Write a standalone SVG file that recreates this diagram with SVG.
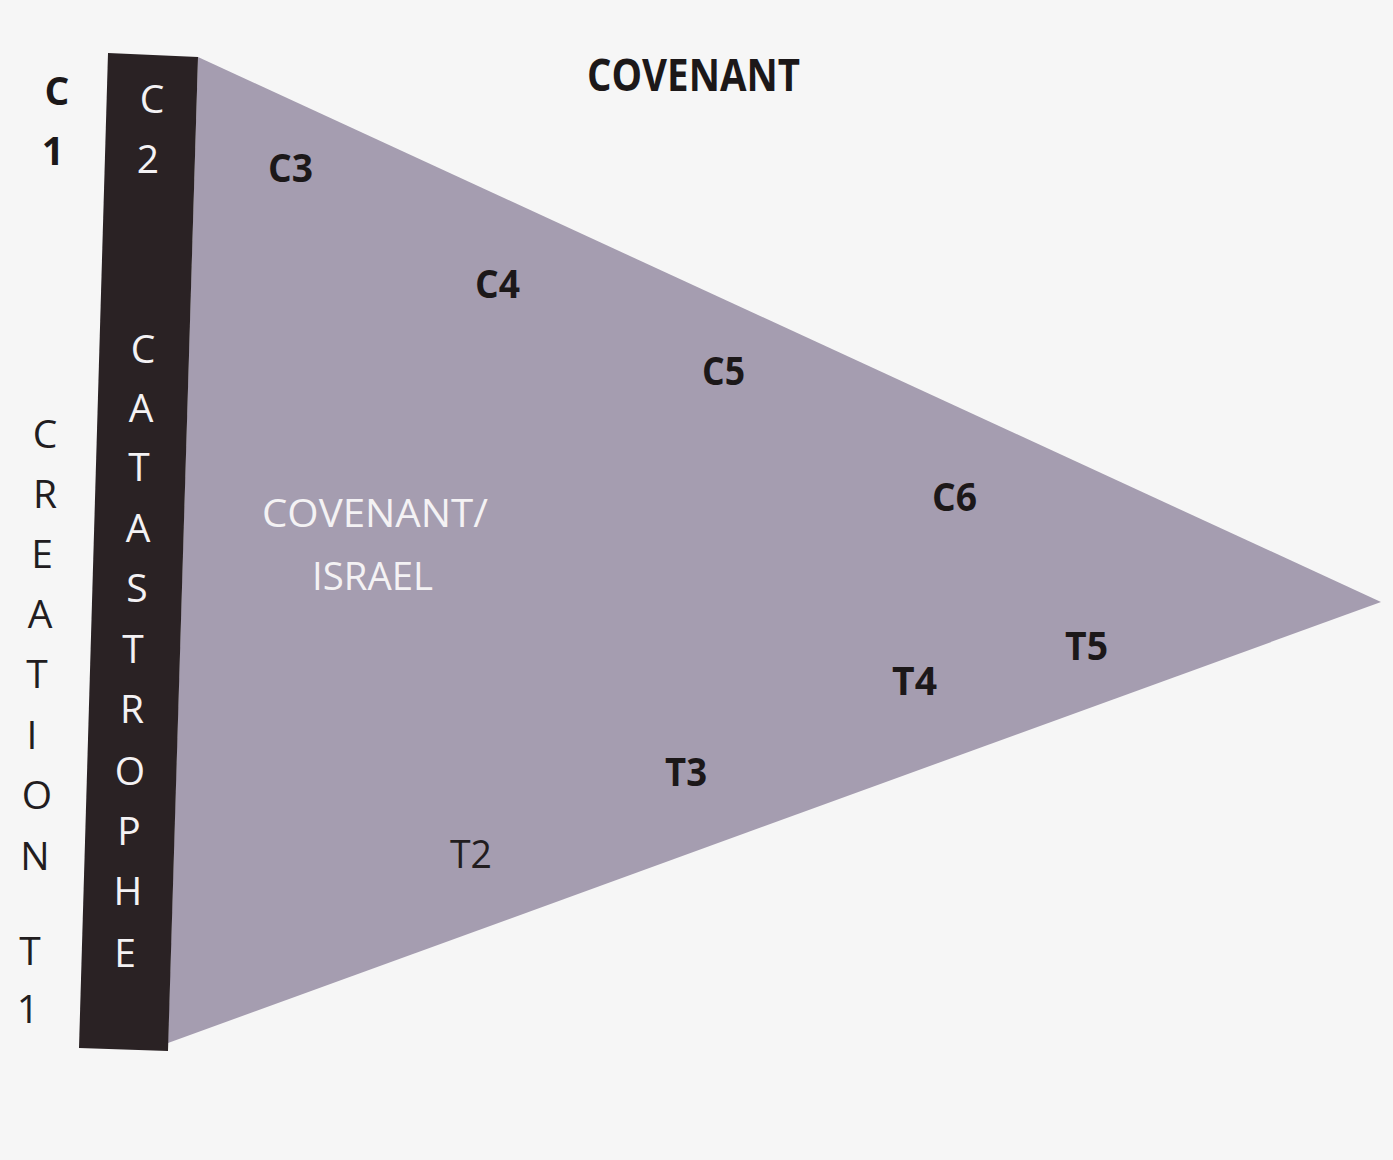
<svg xmlns="http://www.w3.org/2000/svg" width="1393" height="1160" viewBox="0 0 1393 1160">
<style>
.t{font-family:"Open Sans","Noto Sans","Liberation Sans",sans-serif;font-size:39px;}
.b{font-weight:bold;fill:#1c1819;}
.d{fill:#221d1f;}
.w{fill:#f4f2f4;}
.m{text-anchor:middle;}
</style>
<rect width="1393" height="1160" fill="#f6f6f6"/>
<g id="triangle">
<polygon points="198,57 1381,602 168,1043" fill="#a59db0"/>
</g>
<g id="bar">
<polygon points="108,53 198,57 168,1051 79,1048" fill="#2a2224"/>
</g>
<g id="c1" class="t b m">
<text x="57" y="105">C</text>
<text x="53" y="165">1</text>
</g>
<g id="c2" class="t w m">
<text x="152" y="113">C</text>
<text x="148" y="173">2</text>
</g>
<g id="catastrophe" class="t w m">
<text x="143" y="363">C</text>
<text x="141" y="422">A</text>
<text x="139" y="481">T</text>
<text x="138" y="542">A</text>
<text x="137" y="602">S</text>
<text x="133" y="663">T</text>
<text x="132" y="723">R</text>
<text x="130" y="785">O</text>
<text x="129" y="845">P</text>
<text x="128" y="905">H</text>
<text x="125" y="967">E</text>
</g>
<g id="creation-t1" class="t d m">
<text x="45" y="448">C</text>
<text x="45" y="508">R</text>
<text x="42" y="568">E</text>
<text x="40" y="628">A</text>
<text x="37" y="688">T</text>
<text x="32" y="749">I</text>
<text x="37" y="809">O</text>
<text x="35" y="870">N</text>
<text x="30" y="965">T</text>
<text x="28" y="1023">1</text>
</g>
<g id="covenant-title" class="t b">
<text x="587" y="91" font-size="45" textLength="213" lengthAdjust="spacingAndGlyphs">COVENANT</text>
</g>
<g id="covenant-israel" class="t w">
<text x="262" y="527" textLength="226" lengthAdjust="spacingAndGlyphs">COVENANT/</text>
<text x="312" y="590" textLength="121" lengthAdjust="spacingAndGlyphs">ISRAEL</text>
</g>
<g id="labels" class="t b">
<text id="C3" x="268" y="182" textLength="45" lengthAdjust="spacingAndGlyphs">C3</text>
<text id="C4" x="475" y="298" textLength="45" lengthAdjust="spacingAndGlyphs">C4</text>
<text id="C5" x="702" y="385" textLength="43" lengthAdjust="spacingAndGlyphs">C5</text>
<text id="C6" x="932" y="511" textLength="45" lengthAdjust="spacingAndGlyphs">C6</text>
<text id="T3" x="665" y="786" textLength="42" lengthAdjust="spacingAndGlyphs">T3</text>
<text id="T4" x="892" y="695" textLength="45" lengthAdjust="spacingAndGlyphs">T4</text>
<text id="T5" x="1065" y="660" textLength="43" lengthAdjust="spacingAndGlyphs">T5</text>
</g>
<g id="T2" class="t d">
<text x="450" y="868" textLength="42" lengthAdjust="spacingAndGlyphs">T2</text>
</g>
<g id="connectors"></g>
</svg>
